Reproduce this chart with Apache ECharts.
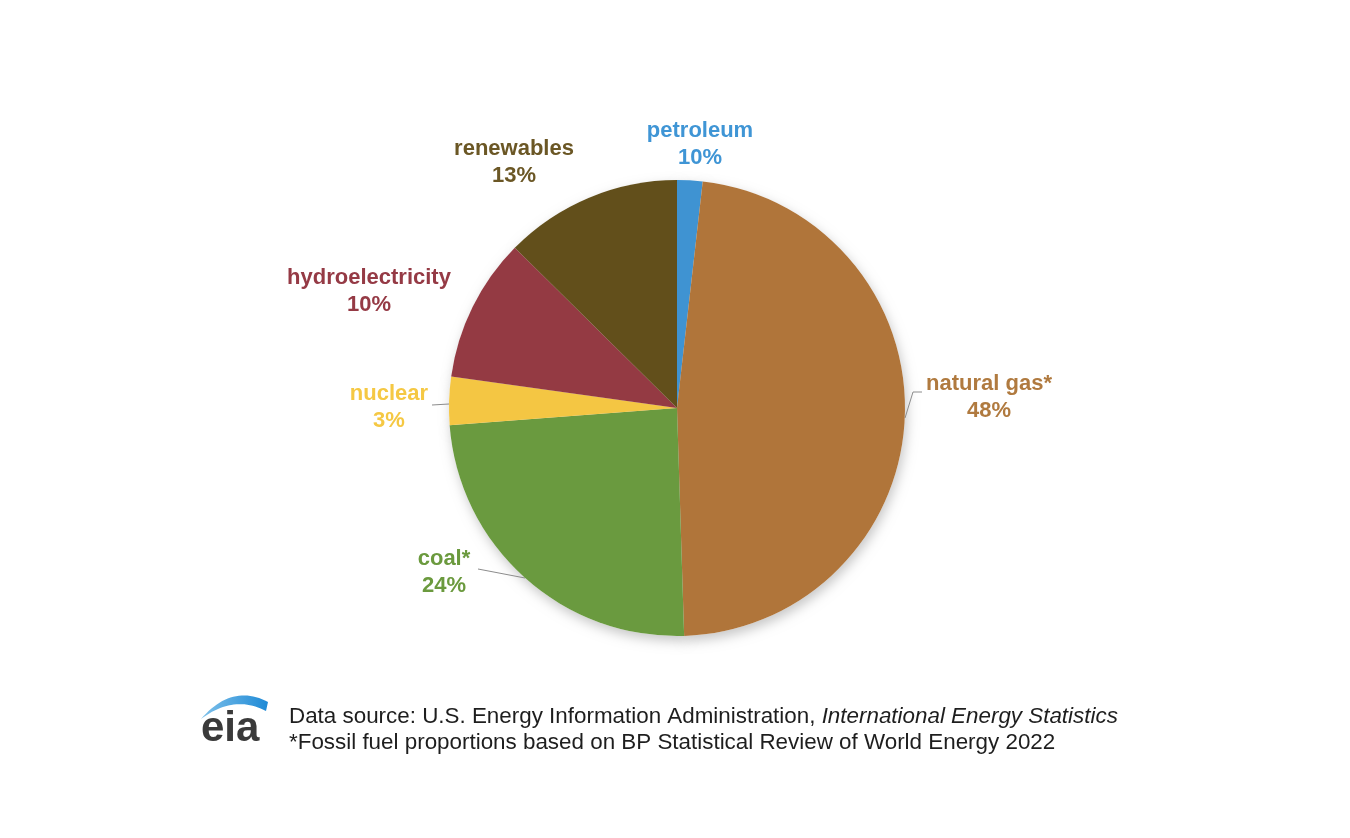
<!DOCTYPE html>
<html>
<head>
<meta charset="utf-8">
<script src="https://cdn.jsdelivr.net/npm/echarts@6/dist/echarts.min.js"></script>
<style>
  html, body { margin: 0; padding: 0; background: #fff; }
  #chart { width: 1350px; height: 838px; }
</style>
</head>
<body>
<div id="chart"></div>
<script>
// slice order clockwise from 12 o'clock
var names = ['petroleum', 'natural gas*', 'coal*', 'nuclear', 'hydroelectricity', 'renewables'];
// slice sizes as drawn (share of the circle, %)
var values = [1.8, 47.7, 24.3, 3.4, 10.2, 12.6];
// percentage text as printed on the chart
var pctLabels = ['10%', '48%', '24%', '3%', '10%', '13%'];
var sliceColors = ['#3f93d2', '#b0753a', '#6a9a3f', '#f4c643', '#943a43', '#624f1b'];
var labelColors = ['#3f95d5', '#b07a3f', '#6b9a3e', '#f5c843', '#953a45', '#6b5725'];

// label centres and connector lines (null = no line)
var labelPos = [[700, 144], [989, 397], [444, 572], [389, 407], [369, 291], [514, 162]];
var linePts = [
  null,
  [[905, 418], [913, 392], [922, 392]],
  [[525, 578], [478, 569]],
  [[449, 404], [432, 405]],
  null,
  null
];

// eia logo swoosh: outer and inner curve of a crescent
function quad(p0, p1, p2, n) {
  var pts = [];
  for (var k = 0; k <= n; k++) {
    var t = k / n, u = 1 - t;
    pts.push([u * u * p0[0] + 2 * u * t * p1[0] + t * t * p2[0],
              u * u * p0[1] + 2 * u * t * p1[1] + t * t * p2[1]]);
  }
  return pts;
}
var swoosh = quad([201, 719], [232, 683], [268, 702], 24)
  .concat(quad([266, 711], [234, 694], [201, 719], 24));

var chart = echarts.init(document.getElementById('chart'));

var data = names.map(function (n, i) {
  return {
    name: n,
    value: values[i],
    itemStyle: { color: sliceColors[i] },
    label: { color: labelColors[i] },
    labelLine: { show: linePts[i] != null }
  };
});

var pieCenter = [677, 408];
var pieRadius = 228;

var option = {
  backgroundColor: '#ffffff',
  animation: false,
  series: [
    {
      // soft drop shadow under the whole pie
      type: 'pie',
      z: 1,
      silent: true,
      center: pieCenter,
      radius: pieRadius,
      startAngle: 90,
      data: names.map(function (n, i) { return { name: n, value: values[i] }; }),
      label: { show: false },
      labelLine: { show: false },
      itemStyle: {
        color: '#ffffff',
        shadowBlur: 12,
        shadowOffsetY: 5,
        shadowOffsetX: 2,
        shadowColor: 'rgba(0,0,0,0.22)'
      }
    },
    {
      type: 'pie',
      z: 2,
      center: pieCenter,
      radius: pieRadius,
      startAngle: 90,
      clockwise: true,
      data: data,
      itemStyle: { borderWidth: 0 },
      label: {
        show: true,
        position: 'outside',
        fontFamily: '"Liberation Sans", Arial, sans-serif',
        fontSize: 22,
        fontWeight: 'bold',
        lineHeight: 27,
        align: 'center',
        formatter: function (p) {
          return p.name + '\n' + pctLabels[p.dataIndex];
        }
      },
      labelLine: {
        lineStyle: { color: '#8c8c8c', width: 1 }
      },
      labelLayout: function (p) {
        var i = p.dataIndex;
        var o = {
          x: labelPos[i][0],
          y: labelPos[i][1],
          align: 'center',
          verticalAlign: 'middle'
        };
        if (linePts[i]) o.labelLinePoints = linePts[i];
        return o;
      }
    }
  ],
  graphic: [
    {
      type: 'polygon',
      shape: { points: swoosh },
      style: {
        fill: {
          type: 'linear', x: 0, y: 0, x2: 1, y2: 0,
          colorStops: [
            { offset: 0, color: '#7fc1ea' },
            { offset: 1, color: '#1f8ad6' }
          ]
        }
      }
    },
    {
      type: 'text',
      x: 201,
      y: 708,
      style: {
        text: 'eia',
        font: 'bold 42px "Liberation Sans", Arial, sans-serif',
        fill: '#3a3a3a'
      }
    },
    {
      type: 'text',
      x: 289,
      y: 704,
      style: {
        text: 'Data source: U.S. Energy Information Administration, {i|International Energy Statistics}\n*Fossil fuel proportions based on BP Statistical Review of World Energy 2022',
        font: '22.4px "Liberation Sans", Arial, sans-serif',
        lineHeight: 26,
        fill: '#1e1e1e',
        rich: {
          i: {
            fontStyle: 'italic',
            fontFamily: '"Liberation Sans", Arial, sans-serif',
            fontSize: 22.4,
            lineHeight: 26,
            fill: '#1e1e1e'
          }
        }
      }
    }
  ]
};

chart.setOption(option);
</script>
</body>
</html>
